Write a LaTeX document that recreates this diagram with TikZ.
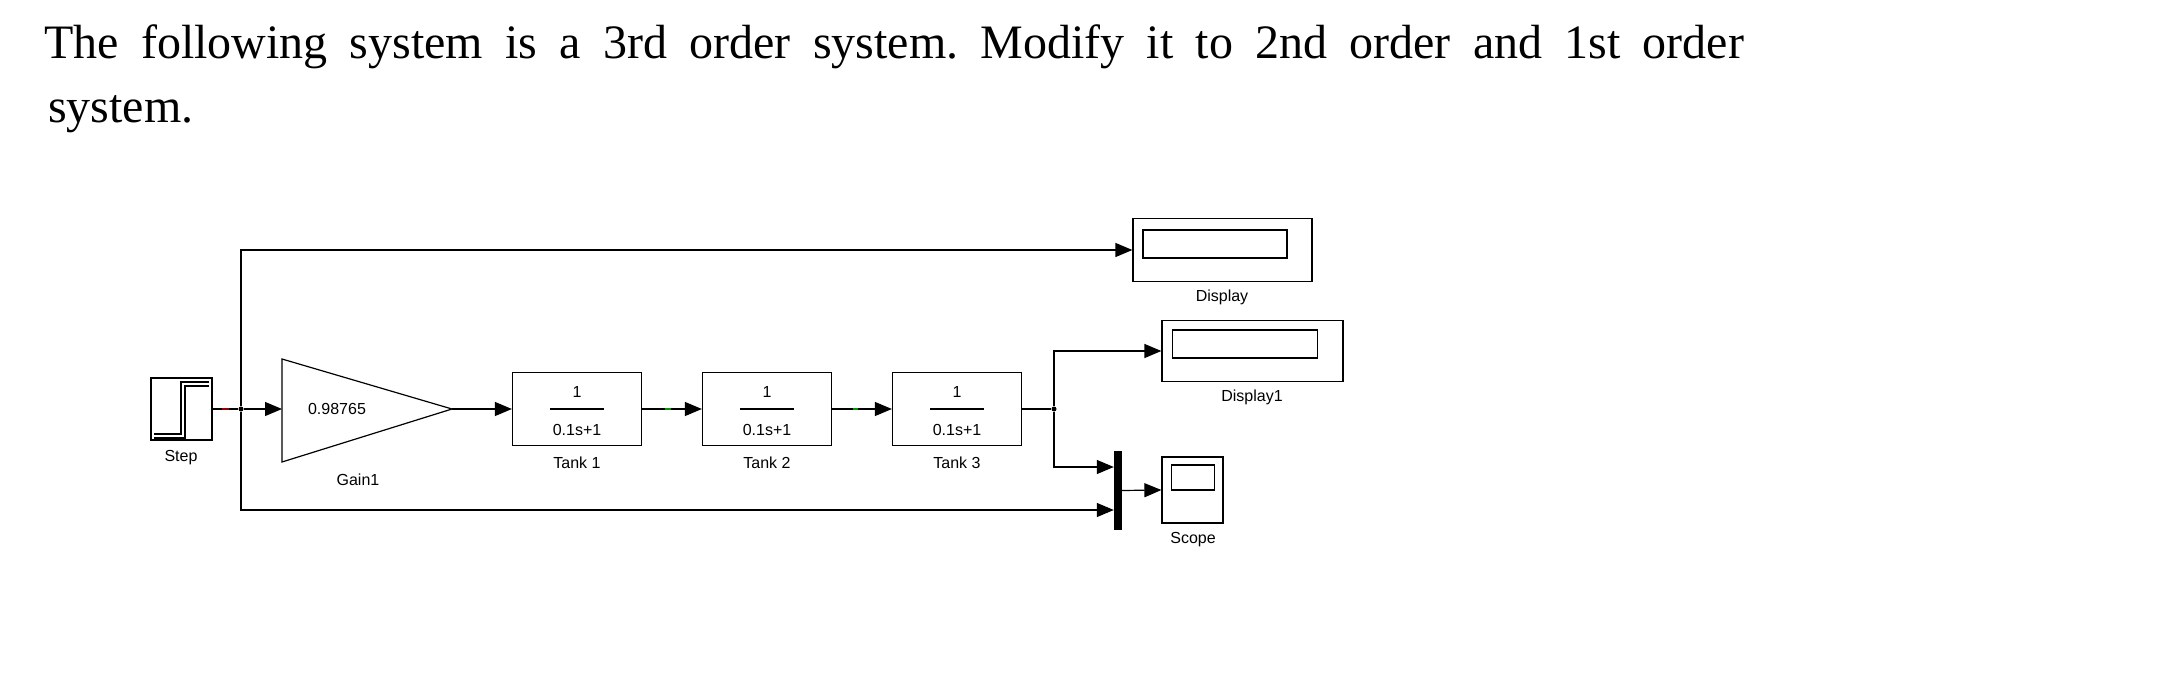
\documentclass[tikz,border=0pt]{standalone}
\usepackage{fontspec}
\setmainfont{Liberation Serif}
\newfontfamily\lbl{Liberation Sans}
\usetikzlibrary{arrows.meta,shapes.geometric}
\begin{document}
\frenchspacing
\begin{tikzpicture}[x=1pt,y=-1pt,
  blk/.style={draw,line width=1.2pt,inner sep=0pt},
  lab/.style={font=\lbl\fontsize{16}{16}\selectfont},
  wire/.style={line width=1.2pt},
  arr/.style={wire,-{Triangle[length=17,width=14]}},
  dot/.style={circle,fill,inner sep=0pt,minimum size=5pt}]
\useasboundingbox (0,0) rectangle (2164,690);
\node[anchor=west,inner sep=0pt,font=\fontsize{48}{48}\selectfont] (t1) at (44,47) {\makebox[1700pt][s]{The following system is a 3rd order system. Modify it to 2nd order and 1st order}};
\node[anchor=west,inner sep=0pt,font=\fontsize{48}{48}\selectfont] (t2) at (48,114) {system.};
% step
\node[blk,minimum width=61,minimum height=62] (step) at (181.5,409) {};
\draw[line width=1.1pt] (154,434)--(181,434)--(181,382)--(209,382);
\draw[line width=1.1pt] (154,438)--(185,438)--(185,386)--(209,386);
\node[lab,anchor=north] (stepl) at (181,447) {Step};
% gain
\coordinate (gin) at (282,409);
\coordinate (gout) at (452,409);
\draw[line width=1.2pt] (282,359) -- (gout) -- (282,462) -- cycle;
\node[lab] (gt) at (337,409) {0.98765};
\node[lab] (gl) at (358,480) {Gain1};
% tanks
\foreach \n/\x/\l in {t1k/577/Tank 1,t2k/767/Tank 2,t3k/957/Tank 3}{
  \node[blk,minimum width=129,minimum height=73] (\n) at (\x,409) {};
  \draw[line width=1.1pt] (\x-27,409)--(\x+27,409);
  \node[lab] at (\x,392) {1};
  \node[lab] at (\x,430) {0.1s+1};
  \node[lab] at (\x,463) {\l};
}
% displays
\node[blk,minimum width=179,minimum height=63] (disp) at (1222.5,250) {};
\node[blk,minimum width=144,minimum height=28] at (1215,244) {};
\node[lab] (dl) at (1222,297) {Display};
\node[blk,minimum width=181,minimum height=61] (disp1) at (1252.5,351) {};
\node[blk,minimum width=145,minimum height=28] at (1245,344) {};
\node[lab] (d1l) at (1252,397) {Display1};
% mux and scope
\node[fill,minimum width=8,minimum height=79,inner sep=0pt] (mux) at (1118,490.5) {};
\node[blk,minimum width=61,minimum height=66] (scope) at (1192.5,490) {};
\node[blk,minimum width=43,minimum height=25] at (1193,477.5) {};
\node[lab] (sl) at (1193,540) {Scope};
% wires
\node[dot] (b1) at (241,409) {};
\node[dot] (b2) at (1054,409) {};
\coordinate (tl) at (241,250);
\coordinate (bl) at (241,510);
\coordinate (r1) at (1054,351);
\coordinate (r2) at (1054,467);
\draw[wire] (step.east) -- (b1);
\draw[wire,red!60!black] (222,409)--(229,409);
\draw[arr] (b1) -- (gin);
\draw[arr] (b1) -- (tl) -- (disp.west);
\draw[arr] (b1) -- (bl) -- (mux.west |- bl);
\draw[arr] (gout) -- (t1k.west);
\draw[arr] (t1k.east) -- (t2k.west);
\draw[arr] (t2k.east) -- (t3k.west);
\draw[wire,green!60!black] (665,409)--(671,409);
\draw[wire,green!60!black] (853,409)--(858,409);
\draw[wire] (t3k.east) -- (b2);
\draw[arr] (b2) -- (r1) -- (disp1.west);
\draw[arr] (b2) -- (r2) -- (mux.west |- r2);
\draw[arr] (mux.east) -- (scope.west);
\end{tikzpicture}
\end{document}
